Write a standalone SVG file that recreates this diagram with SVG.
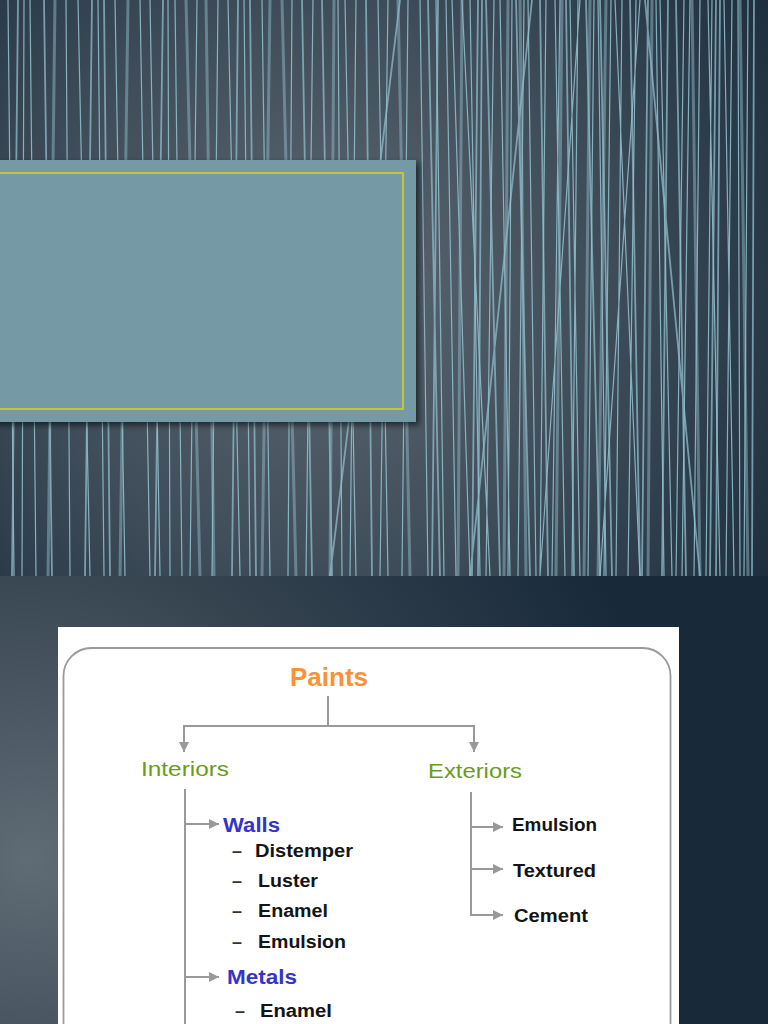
<svg xmlns="http://www.w3.org/2000/svg" width="768" height="1024" viewBox="0 0 768 1024">
<defs>
<radialGradient id="bgTop" cx="320" cy="290" r="560" gradientUnits="userSpaceOnUse">
<stop offset="0" stop-color="#5e6973"/>
<stop offset="0.55" stop-color="#3c4a57"/>
<stop offset="1" stop-color="#1a2b3b"/>
</radialGradient>
<radialGradient id="bgBot" cx="30" cy="860" r="640" gradientUnits="userSpaceOnUse">
<stop offset="0" stop-color="#5f6b75"/>
<stop offset="0.5" stop-color="#35434f"/>
<stop offset="1" stop-color="#18293a"/>
</radialGradient>
<filter id="shadow" x="-10%" y="-10%" width="130%" height="130%">
<feGaussianBlur in="SourceAlpha" stdDeviation="3"/>
<feOffset dx="3" dy="3"/>
<feComponentTransfer><feFuncA type="linear" slope="0.6"/></feComponentTransfer>
<feMerge><feMergeNode/><feMergeNode in="SourceGraphic"/></feMerge>
</filter>
<marker id="arr" viewBox="0 0 10 10" refX="10" refY="5" markerWidth="10" markerHeight="10" markerUnits="userSpaceOnUse" orient="auto">
<path d="M0,0 L10,5 L0,10 z" fill="#999999"/>
</marker>
</defs>
<style>
.ln1{stroke:#90bccb;stroke-width:1.2;opacity:0.9;fill:none}
.ln2{stroke:#90bccb;stroke-width:1.8;opacity:0.75;fill:none}
.ln3{stroke:#8fb8c6;stroke-width:3;opacity:0.5;fill:none}
.con{stroke:#999999;stroke-width:2;fill:none}
.t{font-family:"Liberation Sans",Arial,sans-serif}
.lvl1{font-size:20px;fill:#6a9b1c}
.lvl2{font-size:20px;font-weight:bold;fill:#3434c8}
.item{font-size:18px;font-weight:bold;fill:#141414}
.dash{font-size:18px;font-weight:bold;fill:#333333}
</style>

<!-- top slide background -->
<rect x="0" y="0" width="768" height="576" fill="url(#bgTop)"/>
<g id="lines">
<path class="ln1" d="M8,0 L14,576 M30,0 L36,576 M66,0 L70,576 M78,0 L90,576 M115,0 L125,576 M140,0 L150,576 M150,0 L160,576 M175,0 L182,576 M197,0 L190,576 M218,0 L212,576 M228,0 L240,576 M262,0 L270,576 M292,0 L288,576 M313,0 L306,576 M345,0 L356,576 M356,0 L350,576 M378,0 L388,576 M388,0 L380,576 M408,0 L402,576 M420,0 L428,576 M446,0 L456,576 M452,0 L470,576 M470,0 L480,576 M494,0 L486,576 M500,0 L510,576 M524,0 L518,576 M546,0 L540,576 M555,0 L565,576 M570,0 L580,576 M578,0 L572,576 M594,0 L588,576 M615,0 L640,576 M622,0 L616,576 M660,0 L672,576 M684,0 L676,576 M700,0 L694,576 M708,0 L720,576 M724,0 L734,576 M732,0 L726,576 M748,0 L744,576 M640,0 L600,576 M580,0 L540,576 M436,0 L444,576 M462,0 L490,576 M512,0 L508,576 M528,0 L536,576 M560,0 L552,576 M598,0 L606,576 M611,0 L604,576 M636,0 L628,576 M656,0 L664,576 M690,0 L682,576 M712,0 L706,576 M738,0 L740,576 M24,0 L22,576 M98,0 L104,576 M168,0 L170,576 M244,0 L250,576 M338,0 L342,576"/>
<path class="ln2" d="M18,0 L12,576 M92,0 L85,576 M163,0 L155,576 M238,0 L232,576 M302,0 L312,576 M366,0 L372,576 M428,0 L440,576 M486,0 L500,576 M540,0 L548,576 M586,0 L600,576 M630,0 L640,576 M676,0 L686,576 M716,0 L710,576 M44,0 L52,576 M104,0 L110,576 M250,0 L256,576 M322,0 L332,576 M438,0 L432,576 M478,0 L472,576 M516,0 L530,576 M532,0 L470,576 M600,0 L612,576 M668,0 L662,576 M645,0 L700,576 M754,0 L752,576 M400,0 L330,576 M482,0 L478,576 M566,0 L574,576 M648,0 L642,576 M720,0 L716,576"/>
<path class="ln3" d="M55,0 L48,576 M128,0 L120,576 M206,0 L214,576 M270,0 L262,576 M334,0 L330,576 M398,0 L410,576 M462,0 L458,576 M508,0 L504,576 M562,0 L556,576 M606,0 L598,576 M652,0 L648,576 M692,0 L700,576 M740,0 L748,576 M186,0 L200,576 M282,0 L296,576 M520,0 L526,576 M590,0 L584,576"/>
</g>

<!-- title box -->
<g id="titleBox">
<rect x="-6" y="160" width="422" height="262" fill="#7599a5" filter="url(#shadow)"/>
<rect x="-6" y="173" width="409" height="236" fill="none" stroke="#c4c63a" stroke-width="2"/>
</g>

<!-- bottom slide background -->
<rect x="0" y="576" width="768" height="448" fill="url(#bgBot)"/>

<!-- picture -->
<g id="picture">
<rect x="58" y="627" width="621" height="397" fill="#ffffff"/>
<rect x="63.5" y="648" width="607" height="420" rx="28" ry="28" fill="none" stroke="#9a9a9a" stroke-width="1.8"/>
</g>

<g id="connectors">
<path class="con" d="M328,696 L328,726 M184,726 L474,726"/>
<path class="con" d="M184,725 L184,752" marker-end="url(#arr)"/>
<path class="con" d="M474,725 L474,752" marker-end="url(#arr)"/>
<path class="con" d="M185,789 L185,1024"/>
<path class="con" d="M185,824 L219,824" marker-end="url(#arr)"/>
<path class="con" d="M185,977 L219,977" marker-end="url(#arr)"/>
<path class="con" d="M471,792 L471,915 L503,915" marker-end="url(#arr)"/>
<path class="con" d="M471,827 L503,827" marker-end="url(#arr)"/>
<path class="con" d="M471,869 L503,869" marker-end="url(#arr)"/>
</g>

<g id="node-paints"><text class="t" x="290" y="686" font-size="25" font-weight="bold" fill="#f7923a" textLength="78" lengthAdjust="spacingAndGlyphs">Paints</text></g>
<g id="node-interiors"><text class="t lvl1" x="141" y="776" textLength="88" lengthAdjust="spacingAndGlyphs">Interiors</text></g>
<g id="node-exteriors"><text class="t lvl1" x="428" y="778" textLength="94" lengthAdjust="spacingAndGlyphs">Exteriors</text></g>
<g id="node-walls">
<text class="t lvl2" x="223" y="832" textLength="57" lengthAdjust="spacingAndGlyphs">Walls</text>
<text class="t dash" x="232" y="857">–</text><text class="t item" x="255" y="857" textLength="98" lengthAdjust="spacingAndGlyphs">Distemper</text>
<text class="t dash" x="232" y="887">–</text><text class="t item" x="258" y="887" textLength="60" lengthAdjust="spacingAndGlyphs">Luster</text>
<text class="t dash" x="232" y="917">–</text><text class="t item" x="258" y="917" textLength="70" lengthAdjust="spacingAndGlyphs">Enamel</text>
<text class="t dash" x="232" y="948">–</text><text class="t item" x="258" y="948" textLength="88" lengthAdjust="spacingAndGlyphs">Emulsion</text>
</g>
<g id="node-metals">
<text class="t lvl2" x="227" y="984" textLength="70" lengthAdjust="spacingAndGlyphs">Metals</text>
<text class="t dash" x="235" y="1017">–</text><text class="t item" x="260" y="1017" textLength="72" lengthAdjust="spacingAndGlyphs">Enamel</text>
</g>
<g id="node-ext-items">
<text class="t item" x="512" y="831" textLength="85" lengthAdjust="spacingAndGlyphs">Emulsion</text>
<text class="t item" x="513" y="877" textLength="83" lengthAdjust="spacingAndGlyphs">Textured</text>
<text class="t item" x="514" y="922" textLength="74" lengthAdjust="spacingAndGlyphs">Cement</text>
</g>
</svg>
